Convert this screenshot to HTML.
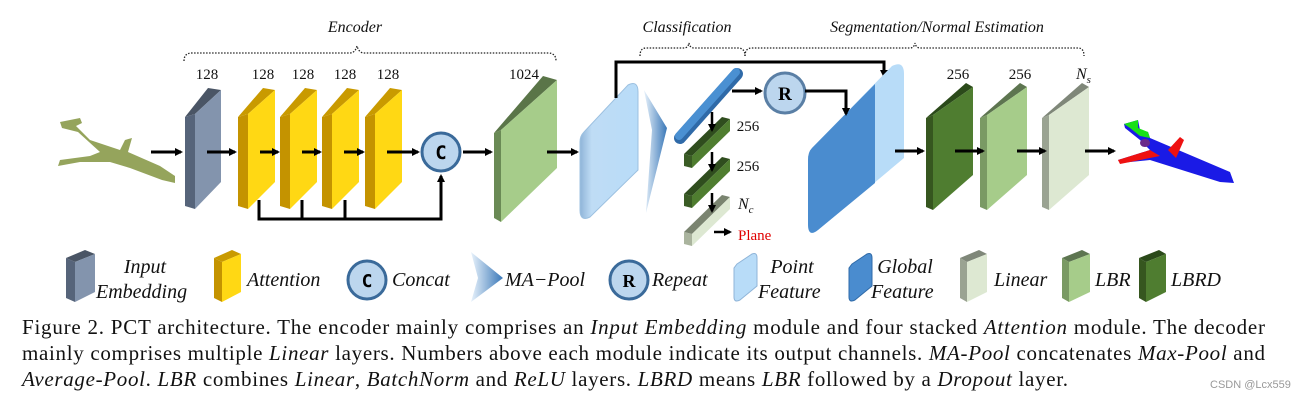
<!DOCTYPE html>
<html><head><meta charset="utf-8"><style>
html,body{margin:0;padding:0;background:#fff;}
svg{display:block;}
.lb{font-family:"Liberation Serif",serif;font-size:15px;fill:#111;}
.it{font-family:"Liberation Serif",serif;font-style:italic;font-size:16px;fill:#111;}
.lg{font-family:"Liberation Serif",serif;font-style:italic;font-size:20px;fill:#111;}
.cap{font-family:"Liberation Serif",serif;font-size:21px;fill:#111;}
</style></head><body>
<svg width="1306" height="400" viewBox="0 0 1306 400" xmlns="http://www.w3.org/2000/svg">
<defs>
<marker id="ah" markerWidth="8" markerHeight="8" refX="6" refY="4" orient="auto" markerUnits="userSpaceOnUse"><path d="M0,0 L8,4 L0,8 z" fill="#000"/></marker>
<linearGradient id="pf" x1="0" x2="1"><stop offset="0" stop-color="#8fb4d8"/><stop offset="0.2" stop-color="#bfdcf5"/><stop offset="1" stop-color="#b8dcf8"/></linearGradient>
<linearGradient id="mp" x1="0" x2="1"><stop offset="0" stop-color="#e8f2fb"/><stop offset="1" stop-color="#3a78b8"/></linearGradient>
</defs>

<text x="355" y="32" class="it" text-anchor="middle">Encoder</text>
<text x="687" y="32" class="it" text-anchor="middle">Classification</text>
<text x="937" y="32" class="it" text-anchor="middle">Segmentation/Normal Estimation</text>
<g fill="none" stroke="#222" stroke-width="1.3" stroke-dasharray="1.5,1.5">
<path d="M184,61 Q184,53 192,53 L350,53 Q355,53 357,46 Q359,53 364,53 L548,53 Q556,53 556,61"/>
<path d="M640,56 Q640,48 646,48 L684,48 Q688,48 689,43 Q690,48 694,48 L738,48 Q745,48 745,56"/>
<path d="M745,56 Q745,48 752,48 L910,48 Q914,48 915,43 Q916,48 920,48 L1078,48 Q1084,48 1084,56"/>
</g>

<g class="lb" text-anchor="middle">
<text x="207" y="79">128</text><text x="263" y="79">128</text><text x="303" y="79">128</text><text x="345" y="79">128</text><text x="388" y="79">128</text>
<text x="524" y="79">1024</text>
<text x="958" y="79">256</text><text x="1020" y="79">256</text>
<text x="748" y="131">256</text><text x="748" y="171">256</text>
</g>
<text x="1076" y="79" class="it">N<tspan font-size="11" dy="4">s</tspan></text>
<text x="738" y="209" class="it">N<tspan font-size="11" dy="4">c</tspan></text>
<text x="738" y="240" style="font-family:'Liberation Serif',serif;font-size:15px;fill:#e00000">Plane</text>

<g fill="#8a9a4a" opacity="0.9">
<path d="M60,122 L80,118 L82,123 L76,126 L90,140 L120,150 L125,140 L132,138 L128,152 L160,166 L175,176 L175,183 L162,180 L130,168 L110,162 L80,162 L58,166 L60,160 L90,156 L100,152 L78,132 L62,128 Z"/>
</g>

<g stroke="#000" stroke-width="3" marker-end="url(#ah)" fill="none">
<line x1="151" y1="152" x2="181" y2="152"/>
<line x1="463" y1="152" x2="491" y2="152"/>
<polyline points="259,200 259,219 441,219 441,176"/>
</g>
<g stroke="#000" stroke-width="3"><line x1="302" y1="200" x2="302" y2="219"/><line x1="345" y1="200" x2="345" y2="219"/></g>

<polygon points="185,117 208,88 221,90 195,114" fill="#4a5565"/>
<polygon points="185,117 195,114 195,209 185,206" fill="#56647a"/>
<polygon points="195,114 221,90 221,182 195,209" fill="#8394ad"/>

<g><polygon points="238,117 263,88 275,90 248,114" fill="#c99a00"/><polygon points="238,117 248,114 248,209 238,206" fill="#c49300"/><polygon points="248,114 275,90 275,182 248,209" fill="#ffd814"/></g>
<g transform="translate(42,0)"><polygon points="238,117 263,88 275,90 248,114" fill="#c99a00"/><polygon points="238,117 248,114 248,209 238,206" fill="#c49300"/><polygon points="248,114 275,90 275,182 248,209" fill="#ffd814"/></g>
<g transform="translate(84,0)"><polygon points="238,117 263,88 275,90 248,114" fill="#c99a00"/><polygon points="238,117 248,114 248,209 238,206" fill="#c49300"/><polygon points="248,114 275,90 275,182 248,209" fill="#ffd814"/></g>
<g transform="translate(127,0)"><polygon points="238,117 263,88 275,90 248,114" fill="#c99a00"/><polygon points="238,117 248,114 248,209 238,206" fill="#c49300"/><polygon points="248,114 275,90 275,182 248,209" fill="#ffd814"/></g>
<g stroke="#000" stroke-width="3" marker-end="url(#ah)">
<line x1="260" y1="152" x2="278" y2="152"/><line x1="302" y1="152" x2="320" y2="152"/><line x1="344" y1="152" x2="363" y2="152"/><line x1="387" y1="152" x2="418" y2="152"/>
<line x1="207" y1="152" x2="235" y2="152"/>
</g>
<g stroke="#000" stroke-width="3"><line x1="259" y1="200" x2="259" y2="219"/></g>

<circle cx="441" cy="152" r="19" fill="#bcd6ee" stroke="#3a6a9a" stroke-width="3"/>
<text x="441" y="159" text-anchor="middle" style="font-family:'DejaVu Sans Mono',monospace;font-weight:bold;font-size:19px">C</text>

<polygon points="494,133 543,76 557,80 501,130" fill="#5a7548"/>
<polygon points="494,133 501,130 501,222 494,218" fill="#6a8a55"/>
<polygon points="501,130 557,80 557,168 501,222" fill="#a6cc8a"/>
<line x1="547" y1="152" x2="577" y2="152" stroke="#000" stroke-width="3" marker-end="url(#ah)"/>

<path d="M584,132 L628,85 Q638,80 638,92 L638,170 L590,217 Q580,222 580,210 L580,142 Q580,136 584,132 Z" fill="url(#pf)" stroke="#9cc0e0"/>
<polygon points="644,90 667,128 646,213 652,130" fill="url(#mp)"/>
<polyline points="616,98 616,62 884,62 884,76" fill="none" stroke="#000" stroke-width="3" marker-end="url(#ah)"/>

<line x1="680" y1="138" x2="737" y2="74" stroke="#2f6aa8" stroke-width="12" stroke-linecap="round"/>
<line x1="679" y1="136" x2="736" y2="72" stroke="#4a90d2" stroke-width="8" stroke-linecap="round"/>
<polyline points="732,91 761,91" stroke="#000" stroke-width="3" marker-end="url(#ah)"/>
<circle cx="785" cy="93" r="20" fill="#bcd6ee" stroke="#5a7fa5" stroke-width="3"/>
<text x="785" y="100" text-anchor="middle" style="font-family:'Liberation Serif',serif;font-weight:bold;font-size:19px">R</text>
<polyline points="805,91 846,91 846,114" fill="none" stroke="#000" stroke-width="3" marker-end="url(#ah)"/>

<g><polygon points="684,154 722,117 730,119 692,156" fill="#2f4d1e"/><polygon points="684,154 692,156 692,168 684,166" fill="#3a5c25"/><polygon points="692,156 730,119 730,131 692,168" fill="#4f7d30"/></g>
<g transform="translate(0,40)"><polygon points="684,154 722,117 730,119 692,156" fill="#2f4d1e"/><polygon points="684,154 692,156 692,168 684,166" fill="#3a5c25"/><polygon points="692,156 730,119 730,131 692,168" fill="#4f7d30"/></g>
<g transform="translate(0,78)"><polygon points="684,154 722,117 730,119 692,156" fill="#7a8470"/><polygon points="684,154 692,156 692,168 684,166" fill="#aab49e"/><polygon points="692,156 730,119 730,131 692,168" fill="#dde8d2"/></g>
<g stroke="#000" stroke-width="2.5" marker-end="url(#ah)">
<line x1="712" y1="112" x2="712" y2="130"/><line x1="712" y1="152" x2="712" y2="170"/><line x1="712" y1="193" x2="712" y2="211"/>
<line x1="714" y1="232" x2="730" y2="232"/>
</g>

<path d="M812,148 L892,66 Q904,60 904,74 L904,158 L818,230 Q808,238 808,224 L808,160 Q808,152 812,148 Z" fill="#b8dcf8"/>
<path d="M812,148 L875,84 L875,183 L818,230 Q808,238 808,224 L808,160 Q808,152 812,148 Z" fill="#4a8ccf"/>
<line x1="846" y1="91" x2="846" y2="114" stroke="#000" stroke-width="3" marker-end="url(#ah)"/>

<polygon points="926,118 966,83 973,87 933,115" fill="#2b4a1a"/>
<polygon points="926,118 933,115 933,210 926,207" fill="#36561f"/>
<polygon points="933,115 973,87 973,175 933,210" fill="#4f7d30"/>
<g transform="translate(54,0)"><polygon points="926,118 966,83 973,87 933,115" fill="#5d7550"/><polygon points="926,118 933,115 933,210 926,207" fill="#7a9a64"/><polygon points="933,115 973,87 973,175 933,210" fill="#a6cc8a"/></g>
<g transform="translate(116,0)"><polygon points="926,118 966,83 973,87 933,115" fill="#7f8779"/><polygon points="926,118 933,115 933,210 926,207" fill="#9aa392"/><polygon points="933,115 973,87 973,175 933,210" fill="#dde8d2"/></g>
<g stroke="#000" stroke-width="3" marker-end="url(#ah)">
<line x1="895" y1="151" x2="923" y2="151"/><line x1="955" y1="151" x2="983" y2="151"/><line x1="1017" y1="151" x2="1045" y2="151"/><line x1="1085" y1="151" x2="1114" y2="151"/>
</g>

<polygon points="1124,124 1138,120 1140,130 1148,132 1150,138 1230,172 1234,183 1220,182 1150,160 1120,163 1118,160 1150,150 1140,140 1125,128" fill="#1a1ae6"/>
<polygon points="1124,124 1138,120 1138,128 1148,132 1150,138 1140,136 1130,128" fill="#18e018"/>
<polygon points="1118,160 1150,150 1160,156 1120,164" fill="#ee1111"/>
<polygon points="1168,150 1180,137 1184,140 1176,158" fill="#ee1111"/>
<ellipse cx="1145" cy="143" rx="5" ry="4" fill="#6a2a8a"/>

<!-- legend -->
<polygon points="66,258 85,250 95,254 75,262" fill="#4a5565"/>
<polygon points="66,258 75,262 75,302 66,298" fill="#56647a"/>
<polygon points="75,262 95,254 95,292 75,302" fill="#8394ad"/>
<text x="145" y="273" class="lg" text-anchor="middle">Input</text>
<text x="96" y="298" class="lg">Embedding</text>
<polygon points="214,258 232,250 241,254 222,262" fill="#c99a00"/>
<polygon points="214,258 222,262 222,302 214,298" fill="#c49300"/>
<polygon points="222,262 241,254 241,292 222,302" fill="#ffd814"/>
<text x="247" y="286" class="lg">Attention</text>
<circle cx="367" cy="280" r="19" fill="#bcd6ee" stroke="#3a6a9a" stroke-width="3"/>
<text x="367" y="287" text-anchor="middle" style="font-family:'DejaVu Sans Mono',monospace;font-weight:bold;font-size:18px">C</text>
<text x="392" y="286" class="lg">Concat</text>
<polygon points="471,252 503,278 471,302 478,278" fill="url(#mp)"/>
<text x="505" y="286" class="lg" textLength="80">MA−Pool</text>
<circle cx="629" cy="280" r="19" fill="#bcd6ee" stroke="#3a6a9a" stroke-width="3"/>
<text x="629" y="287" text-anchor="middle" style="font-family:'Liberation Serif',serif;font-weight:bold;font-size:18px">R</text>
<text x="652" y="286" class="lg">Repeat</text>
<path d="M737,264 L752,254 Q757,252 757,258 L757,286 L740,300 Q734,303 734,297 L734,268 Z" fill="#b8dcf8" stroke="#8fb4d8"/>
<text x="792" y="273" class="lg" text-anchor="middle">Point</text>
<text x="758" y="298" class="lg">Feature</text>
<path d="M852,264 L867,254 Q872,252 872,258 L872,286 L855,300 Q849,303 849,297 L849,268 Z" fill="#4a8ccf" stroke="#2f6aa8"/>
<text x="905" y="273" class="lg" text-anchor="middle">Global</text>
<text x="871" y="298" class="lg">Feature</text>
<polygon points="960,258 979,250 987,254 967,262" fill="#7f8779"/>
<polygon points="960,258 967,262 967,302 960,298" fill="#9aa392"/>
<polygon points="967,262 987,254 987,292 967,302" fill="#dde8d2"/>
<text x="994" y="286" class="lg">Linear</text>
<polygon points="1062,258 1082,250 1090,254 1069,262" fill="#5d7550"/>
<polygon points="1062,258 1069,262 1069,302 1062,298" fill="#7a9a64"/>
<polygon points="1069,262 1090,254 1090,292 1069,302" fill="#a6cc8a"/>
<text x="1095" y="286" class="lg">LBR</text>
<polygon points="1139,258 1159,250 1166,254 1146,262" fill="#2b4a1a"/>
<polygon points="1139,258 1146,262 1146,302 1139,298" fill="#36561f"/>
<polygon points="1146,262 1166,254 1166,292 1146,302" fill="#4f7d30"/>
<text x="1171" y="286" class="lg">LBRD</text>

<text x="22" y="334" class="cap" textLength="1243" lengthAdjust="spacing">Figure 2.  PCT architecture.  The encoder mainly comprises an <tspan font-style="italic">Input Embedding</tspan> module and four stacked <tspan font-style="italic">Attention</tspan> module. The decoder</text>
<text x="22" y="360" class="cap" textLength="1243" lengthAdjust="spacing">mainly comprises multiple <tspan font-style="italic">Linear</tspan> layers. Numbers above each module indicate its output channels. <tspan font-style="italic">MA-Pool</tspan> concatenates <tspan font-style="italic">Max-Pool</tspan> and</text>
<text x="22" y="386" class="cap" textLength="1046" lengthAdjust="spacing"><tspan font-style="italic">Average-Pool</tspan>. <tspan font-style="italic">LBR</tspan> combines <tspan font-style="italic">Linear</tspan>, <tspan font-style="italic">BatchNorm</tspan> and <tspan font-style="italic">ReLU</tspan> layers. <tspan font-style="italic">LBRD</tspan> means <tspan font-style="italic">LBR</tspan> followed by a <tspan font-style="italic">Dropout</tspan> layer.</text>
<text x="1210" y="388" style="font-family:'Liberation Sans',sans-serif;font-size:11px;fill:#999">CSDN @Lcx559</text>
</svg>
</body></html>
